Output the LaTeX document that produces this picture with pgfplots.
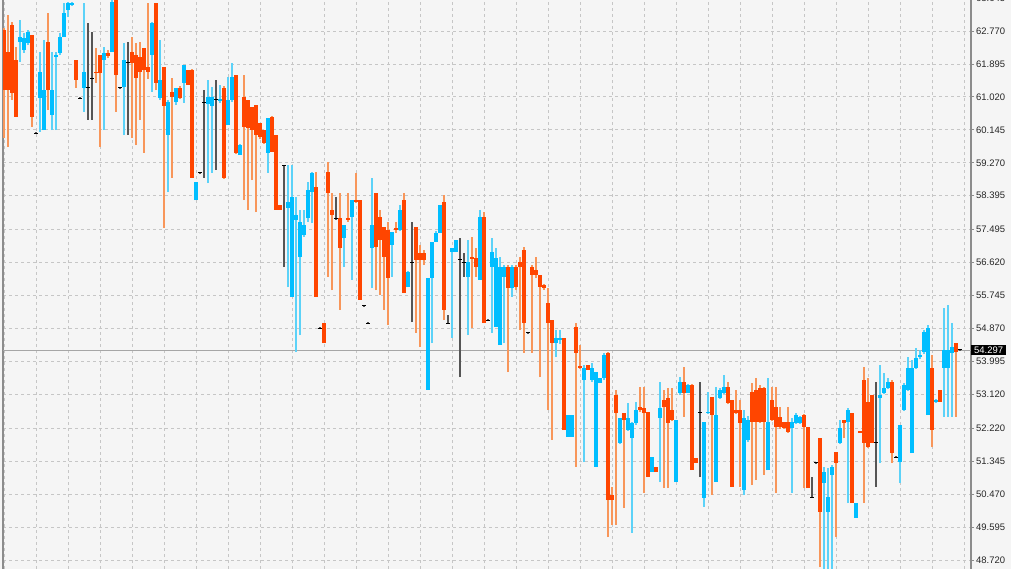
\documentclass[border=0pt]{standalone}
\usepackage{pgfplots}
\pgfplotsset{compat=1.18}
\usepackage{pgfplotstable}
\usepackage{fontspec}
\setmainfont{Liberation Sans}
\definecolor{bg}{HTML}{F5F5F5}
\definecolor{bullb}{HTML}{00BEFF}
\definecolor{bullw}{HTML}{5CD2F8}
\definecolor{bearb}{HTML}{FF4500}
\definecolor{bearw}{HTML}{F8965A}
\definecolor{dojic}{HTML}{555555}

\pgfplotstableread{
x o h l c
0 62.80 62.85 59.93 61.20
1 62.21 63.20 59.69 61.20
2 62.93 63.01 60.94 61.12
3 62.00 62.35 60.49 60.49
4 62.48 63.06 61.95 62.61
5 62.27 62.72 62.19 62.58
6 62.45 62.80 62.40 62.74
7 62.66 62.66 60.22 60.49
8 60.06 60.09 60.04 60.06
9 60.99 62.21 60.09 61.68
10 60.14 62.53 60.14 61.20
11 62.48 63.25 60.67 61.20
12 60.54 62.21 60.14 61.20
13 62.08 62.21 60.14 62.13
14 62.19 62.72 62.13 62.61
15 62.61 63.51 62.61 63.25
16 63.33 63.54 63.14 63.51
17 63.46 63.54 63.44 63.51
18 62.00 62.00 61.26 61.47
19 60.99 61.02 60.96 60.99
20 61.26 63.51 60.62 61.68
21 61.28 62.98 60.41 61.28
22 61.52 62.74 60.41 61.52
23 61.68 62.32 61.39 61.65
24 62.13 62.13 59.69 61.65
25 62.00 62.35 60.14 62.19
26 62.19 62.27 62.05 62.11
27 62.21 63.70 62.21 63.54
28 63.59 63.70 60.62 61.60
29 61.26 61.28 61.24 61.26
30 61.28 62.45 60.01 62.00
31 61.92 62.48 60.01 61.92
32 62.21 62.61 59.93 61.92
33 62.13 62.45 59.74 61.52
34 62.08 62.48 60.41 61.68
35 62.32 62.32 59.53 61.73
36 61.81 63.51 61.50 61.68
37 62.13 63.01 61.15 62.98
38 63.51 63.51 61.20 61.39
39 60.99 62.53 60.94 61.47
40 61.81 61.81 57.54 60.78
41 60.01 60.94 58.49 60.88
42 61.15 61.52 58.87 61.02
43 60.88 61.26 60.80 61.26
44 61.26 61.30 60.96 60.99
45 61.39 61.87 60.86 61.87
46 61.73 61.73 61.34 61.34
47 61.73 61.76 58.87 58.87
48 58.28 58.76 58.28 58.76
49 59.00 59.02 58.98 59.00
50 60.88 61.20 58.87 60.88
51 60.83 61.47 58.73 61.02
52 60.78 61.28 59.00 61.02
53 60.96 61.47 59.08 60.96
54 60.91 61.34 60.86 60.96
55 61.26 61.30 58.85 58.87
56 60.27 61.55 60.27 60.94
57 60.94 61.92 60.88 61.55
58 61.60 61.60 59.50 59.53
59 59.48 59.76 59.48 59.74
60 61.02 61.60 58.28 60.22
61 60.94 60.94 58.02 60.19
62 60.75 60.75 58.81 60.14
63 60.80 60.80 57.96 60.01
64 60.33 60.33 59.90 59.95
65 60.14 60.14 59.78 59.80
66 59.53 60.46 59.00 60.46
67 60.49 60.52 59.56 59.56
68 60.01 60.01 58.02 58.02
69 58.15 58.15 58.02 58.02
70 59.21 59.21 56.50 59.21
71 58.07 59.21 55.97 58.23
72 55.71 59.21 55.71 58.36
73 57.75 58.36 54.24 57.88
74 56.77 58.02 54.69 57.70
75 57.35 58.02 57.30 57.62
76 57.80 58.76 57.70 58.55
77 58.49 59.02 57.67 59.00
78 58.63 59.02 55.71 55.71
79 54.88 54.90 54.86 54.88
80 55.01 55.01 54.48 54.48
81 59.02 59.29 56.24 58.47
82 58.02 58.47 55.89 57.88
83 57.80 58.36 57.75 57.80
84 57.80 58.47 55.36 57.01
85 57.27 57.62 56.50 57.62
86 57.80 58.47 57.70 57.75
87 57.83 58.28 56.16 58.28
88 58.28 59.00 58.20 58.23
89 58.28 58.28 55.63 55.63
90 55.47 55.49 55.45 55.47
91 55.01 55.03 54.99 55.01
92 57.01 58.87 55.94 57.62
93 58.47 58.47 55.89 57.03
94 57.83 58.02 55.76 57.22
95 57.56 57.56 55.36 56.77
96 57.48 57.70 54.96 56.21
97 57.09 57.43 56.24 57.43
98 57.54 57.70 57.40 57.48
99 57.48 58.15 57.45 58.02
100 58.28 58.47 55.81 55.81
101 55.97 56.40 55.97 56.37
102 56.61 57.70 55.04 56.61
103 57.56 57.56 54.75 56.69
104 56.87 57.09 54.38 56.69
105 56.87 56.95 56.55 56.69
106 53.24 56.21 53.24 56.21
107 56.21 57.17 54.48 57.17
108 57.17 57.45 57.17 57.40
109 57.40 58.15 57.40 58.15
110 58.23 58.41 55.09 55.36
111 55.01 55.23 55.01 55.01
112 56.90 57.01 54.62 57.01
113 56.90 57.22 56.90 57.22
114 56.69 57.27 53.58 56.69
115 56.63 56.87 56.24 56.63
116 56.24 57.22 54.69 56.63
117 56.77 57.30 54.88 56.72
118 56.74 57.01 56.24 56.50
119 56.16 58.02 56.16 57.83
120 57.83 57.96 55.01 55.01
121 55.09 55.11 55.07 55.09
122 56.50 57.27 54.75 56.90
123 54.91 57.01 54.91 56.74
124 54.43 56.77 54.43 56.50
125 56.24 56.55 54.48 56.50
126 56.50 56.55 53.71 55.94
127 55.94 56.55 55.71 56.50
128 56.50 56.55 55.90 55.97
129 56.63 56.77 54.83 56.50
130 56.95 57.03 54.22 55.01
131 54.75 54.77 54.73 54.75
132 56.50 56.55 54.22 56.29
133 56.42 56.77 56.20 56.29
134 56.29 56.29 53.58 55.97
135 56.02 56.05 55.90 55.94
136 55.55 55.94 52.70 55.01
137 55.09 55.09 51.91 54.48
138 54.48 54.83 54.11 54.62
139 54.56 54.83 54.45 54.62
140 54.62 54.62 52.17 52.17
141 51.99 52.57 51.99 52.57
142 51.99 52.57 51.99 52.57
143 54.91 55.01 51.19 54.22
144 53.87 54.43 53.80 53.82
145 53.50 53.90 51.32 53.82
146 53.90 53.90 53.77 53.77
147 53.50 53.95 53.45 53.82
148 51.19 53.71 51.19 53.71
149 53.42 53.55 53.42 53.55
150 53.55 54.22 53.50 54.17
151 54.22 54.25 49.33 50.31
152 50.45 50.66 49.65 50.31
153 53.10 53.24 49.65 52.62
154 51.83 52.49 51.80 52.49
155 52.62 52.62 50.10 52.44
156 52.17 52.89 52.15 52.49
157 51.96 52.39 49.44 52.36
158 52.36 52.92 52.30 52.70
159 52.78 53.31 52.65 52.70
160 52.76 53.31 50.50 52.62
161 52.65 52.65 50.92 50.92
162 51.06 51.45 51.06 51.45
163 51.19 51.19 51.06 51.06
164 52.49 53.45 50.79 52.76
165 52.97 53.24 50.63 52.78
166 53.02 53.29 50.63 52.36
167 52.70 53.29 52.40 52.44
168 50.79 52.44 50.79 52.44
169 53.16 53.58 53.10 53.45
170 53.45 53.85 52.52 53.16
171 53.16 53.40 53.16 53.37
172 53.37 53.40 51.11 51.11
173 51.43 51.43 51.30 51.30
174 52.65 53.45 50.92 52.65
175 50.37 52.39 50.13 52.39
176 52.62 53.18 52.60 52.65
177 53.05 53.05 50.45 52.57
178 50.79 53.31 50.79 52.57
179 53.02 53.29 53.00 53.24
180 53.16 53.63 53.14 53.31
181 53.31 53.45 52.85 52.89
182 52.97 52.97 50.66 50.66
183 52.70 53.24 52.60 52.62
184 52.70 52.97 50.66 52.36
185 50.58 52.70 50.45 52.49
186 51.91 52.55 51.85 52.44
187 53.18 53.42 50.71 52.39
188 53.24 53.55 50.84 52.39
189 53.29 53.37 52.35 52.39
190 53.29 53.31 50.98 52.39
191 51.11 53.55 51.11 52.39
192 52.97 53.31 52.40 52.44
193 52.78 53.31 50.50 52.25
194 52.52 52.78 52.20 52.25
195 52.39 52.39 52.20 52.23
196 52.39 52.78 52.10 52.12
197 52.23 52.49 50.50 52.39
198 52.36 52.62 52.34 52.57
199 52.36 52.55 52.34 52.52
200 52.57 52.60 50.63 52.25
201 52.25 52.25 50.63 50.63
202 50.39 50.92 50.39 50.39
203 51.30 51.32 51.28 51.30
204 51.96 51.96 48.53 49.99
205 50.76 51.19 48.40 51.06
206 49.99 51.16 48.40 50.39
207 50.98 51.24 48.40 51.19
208 51.59 51.59 49.33 51.30
209 51.83 52.44 51.80 52.23
210 52.44 52.44 51.96 52.36
211 52.39 52.76 50.23 52.70
212 52.62 52.62 50.23 50.23
213 49.84 50.23 49.84 50.23
214 52.15 52.15 52.10 52.10
215 53.50 53.85 50.23 51.83
216 52.92 53.55 51.70 51.72
217 53.10 53.10 51.83 51.83
218 51.83 53.45 50.66 51.83
219 53.02 53.90 51.30 53.10
220 53.16 53.69 53.14 53.29
221 53.29 53.55 53.27 53.45
222 53.45 53.50 51.30 51.56
223 51.45 51.47 51.43 51.45
224 51.32 52.31 50.76 52.31
225 52.70 53.42 52.68 53.37
226 53.24 54.11 53.20 53.82
227 51.56 54.03 51.56 53.82
228 53.82 54.35 53.80 54.08
229 54.10 54.30 54.05 54.17
230 54.24 54.83 54.20 54.77
231 52.57 54.96 52.57 54.88
232 53.82 54.17 51.72 52.17
233 52.92 53.00 52.90 52.97
234 53.24 53.24 52.92 52.92
235 53.82 55.41 52.52 54.30
236 53.82 55.49 52.52 54.30
237 54.22 55.01 52.52 54.38
238 54.48 54.48 52.52 54.24
239 54.30 54.31 54.29 54.30
}\candles

\begin{document}
\begin{tikzpicture}
\fill[bg] (-3bp,0) rectangle (1008bp,569bp);
\begin{axis}[
  scale only axis, width=968bp, height=569bp,
  xmin=-0.25, xmax=241.75, ymin=48.481, ymax=63.593,
  separate axis lines,
  every outer x axis line/.append style={draw=none},
  every outer y axis line/.append style={draw=gray!90, line width=1.5bp},
  axis background/.style={fill=bg},
  xtick={0,8,...,240}, xticklabels={},
  major x tick style={draw=none},
  ytick={48.720,49.595,50.470,51.345,52.220,53.120,53.995,54.870,55.745,56.620,57.495,58.395,59.270,60.145,61.020,61.895,62.770},
  yticklabel={\pgfmathprintnumber[fixed,fixed zerofill,precision=3,assume math mode=true]{\tick}},
  ytick pos=right, yticklabel pos=right,
  tick align=outside, major tick length=3bp,
  major y tick style={draw=gray!90, line width=0.8bp},
  y tick label style={font=\fontsize{9.5}{11}\selectfont, text=black!85, inner sep=2bp},
  grid=major,
  grid style={draw=gray!45, dash pattern=on 3bp off 3bp, line width=0.8bp},
  clip mode=individual,
  unbounded coords=discard,
]
\addplot[gray!70, line width=0.8bp, forget plot] coordinates {(-0.25,54.297) (241.75,54.297)};
% wicks
\addplot[draw=none, mark=none, forget plot,
  error bars/.cd, y dir=plus, y explicit, error mark=none,
  error bar style={draw=bullw, line width=1.5bp}]
  table[x expr={\thisrow{c}>\thisrow{o} ? \thisrow{x} : nan}, y=l, y error expr=\thisrow{h}-\thisrow{l}] {\candles};
\addplot[draw=none, mark=none, forget plot,
  error bars/.cd, y dir=plus, y explicit, error mark=none,
  error bar style={draw=bearw, line width=1.5bp}]
  table[x expr={\thisrow{c}<\thisrow{o} ? \thisrow{x} : nan}, y=l, y error expr=\thisrow{h}-\thisrow{l}] {\candles};
\addplot[draw=none, mark=none, forget plot,
  error bars/.cd, y dir=plus, y explicit, error mark=none,
  error bar style={draw=dojic, line width=1.3bp}]
  table[x expr={\thisrow{c}==\thisrow{o} ? \thisrow{x} : nan}, y=l, y error expr=\thisrow{h}-\thisrow{l}] {\candles};
% bodies
\addplot[draw=none, mark=none, forget plot,
  error bars/.cd, y dir=plus, y explicit, error mark=none,
  error bar style={draw=bullb, line width=3.2bp}]
  table[x expr={\thisrow{c}>\thisrow{o} ? \thisrow{x} : nan}, y=o, y error expr=\thisrow{c}-\thisrow{o}] {\candles};
\addplot[draw=none, mark=none, forget plot,
  error bars/.cd, y dir=plus, y explicit, error mark=none,
  error bar style={draw=bearb, line width=3.2bp}]
  table[x expr={\thisrow{c}<\thisrow{o} ? \thisrow{x} : nan}, y=c, y error expr=\thisrow{o}-\thisrow{c}] {\candles};
\addplot[only marks, mark=-, mark size=1.6bp, mark options={draw=black, line width=1bp}, forget plot]
  table[x expr={\thisrow{c}==\thisrow{o} ? \thisrow{x} : nan}, y=o] {\candles};
\node[fill=black, text=white, anchor=west, inner xsep=3bp, inner ysep=1.5bp, font=\fontsize{9.5}{11}\selectfont] at (axis cs:241.75,54.297) {54.297};
\node[anchor=west, text=black!85, inner sep=2bp, font=\fontsize{9.5}{11}\selectfont] at ([xshift=3bp]axis cs:241.75,63.645) {63.645};
\end{axis}
\pgfresetboundingbox
\useasboundingbox (-3bp,0) rectangle (1008bp,569bp);
\end{tikzpicture}
\end{document}
